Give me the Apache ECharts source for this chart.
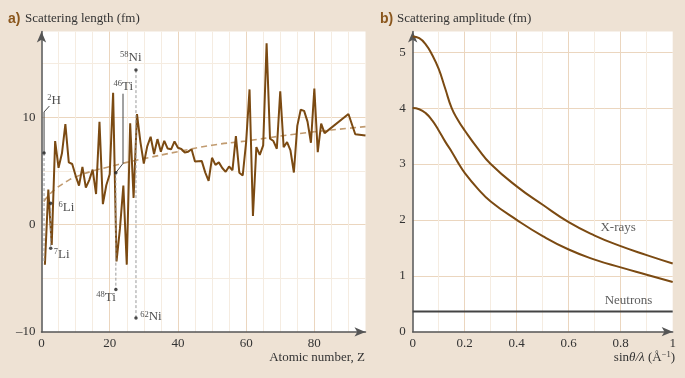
<!DOCTYPE html>
<html>
<head>
<meta charset="utf-8">
<style>
  html, body { margin: 0; padding: 0; background: #eee2d4; }
  #chart { width: 685px; height: 378px; }
</style>
<script src="https://cdn.jsdelivr.net/npm/echarts@6/dist/echarts.min.js"></script>
</head>
<body>
<div id="chart"></div>
<script>
// panel a) coherent scattering length per element
const atomicNumbers = [
  1, 2, 3, 4, 5, 6, 7, 8, 9, 10, 11, 12, 13, 14, 15, 16, 17, 18, 19, 20,
  21, 22, 23, 24, 25, 26, 27, 28, 29, 30, 31, 32, 33, 34, 35, 36, 37, 38, 39, 40,
  41, 42, 43, 44, 45, 46, 47, 48, 49, 50, 51, 52, 53, 54, 55, 56, 57, 58, 59, 60,
  61, 62, 63, 64, 65, 66, 67, 68, 69, 70, 71, 72, 73, 74, 75, 76, 77, 78, 79, 80,
  81, 82, 83, 90, 92, 95
];
const scatteringLengths = [
  -3.74, 3.26, -1.90, 7.79, 5.30, 6.65, 9.36, 5.80, 5.65, 4.57, 3.63, 5.38, 3.45, 4.15, 5.13, 2.85, 9.58, 1.91, 3.67, 4.70,
  12.29, -3.44, -0.38, 3.64, -3.73, 9.45, 2.49, 10.3, 7.72, 5.68, 7.29, 8.19, 6.58, 7.97, 6.80, 7.81, 7.09, 7.02, 7.75, 7.16,
  7.05, 6.72, 6.80, 7.03, 5.88, 5.91, 5.92, 4.87, 4.07, 6.23, 5.57, 5.80, 5.28, 4.92, 5.42, 5.07, 8.24, 4.84, 4.58, 7.69,
  12.6, 0.80, 7.22, 6.5, 7.38, 16.9, 8.01, 7.79, 7.07, 12.43, 7.21, 7.7, 6.91, 4.86, 9.2, 10.7, 10.6, 9.6, 7.63, 12.69,
  6.75, 9.41, 8.53, 10.31, 8.42, 8.3
];
// dashed smooth trend
const trendZ = [0.7, 2, 4, 6, 8, 10, 15, 20, 25, 30, 40, 50, 60, 70, 80, 90, 95];
const trendLength = [2.15, 2.7, 3.3, 3.75, 4.15, 4.45, 5.0, 5.4, 5.8, 6.15, 6.8, 7.4, 7.8, 8.25, 8.65, 8.98, 9.13];
// isotope markers
const isotopeMass = ['2', '6', '7', '46', '48', '58', '62'];
const isotopeElement = ['H', 'Li', 'Li', 'Ti', 'Ti', 'Ni', 'Ni'];
const isotopeZ = [0.75, 2.7, 2.7, 21.8, 21.8, 27.7, 27.7];
const isotopeLengths = [6.67, 2.0, -2.2, 4.84, -6.05, 14.4, -8.7];

// panel b) scattering amplitude vs sin(theta)/lambda
const sinThetaLambda = [0, 0.025, 0.05, 0.075, 0.1, 0.125, 0.15, 0.175, 0.2, 0.25, 0.3, 0.4, 0.5, 0.6, 0.7, 0.8, 0.9, 1.0];
const xrayUpper = [5.28, 5.25, 5.14, 4.95, 4.70, 4.35, 4.0, 3.78, 3.60, 3.28, 3.0, 2.60, 2.27, 1.96, 1.72, 1.53, 1.37, 1.22];
const xrayLower = [4.0, 3.98, 3.91, 3.78, 3.60, 3.40, 3.22, 3.02, 2.84, 2.56, 2.33, 2.0, 1.71, 1.47, 1.29, 1.15, 1.02, 0.89];
const neutronX = [0, 1];
const neutronAmp = [0.36, 0.36];

const SERIF = '"Liberation Serif", "DejaVu Serif", serif';
const BROWN = '#7b4a12';
const GRID_DARK = '#ebd6bf';
const GRID_LIGHT = '#f5ece1';

const chart = echarts.init(document.getElementById('chart'));

const zip = (xs, ys) => xs.map((x, i) => [x, ys[i]]);

function axisLine() {
  return {
    show: true,
    onZero: false,
    symbol: ['none', 'arrow'],
    symbolSize: [7, 11],
    lineStyle: { color: '#555', width: 1.5 },
  };
}
const labelStyle = { color: '#333', fontFamily: SERIF, fontSize: 13 };

// isotope label positions (data units) next to the dots
const isoLabelPos = [[3.7, 11.6], [7.3, 1.6], [5.9, -2.75], [24.0, 12.85], [18.9, -6.8], [26.2, 15.6], [32.1, -8.6]];
// leader lines for 2H and 46Ti labels
const leaderLines = [
  [[0.75, 6.67], [0.75, 10.5], [2.3, 11.05]],
  [[21.8, 4.84], [23.9, 5.7], [23.9, 12.2]],
];
// dotted lines joining the isotope values to the element curve
const dottedLines = [
  [[0.75, 6.67], [0.75, -3.6]],
  [[2.7, 2.0], [2.7, -2.2]],
  [[21.8, 4.84], [21.8, -6.05]],
  [[27.7, 14.4], [27.7, -8.7]],
];

const series = [
  {
    type: 'line', xAxisIndex: 0, yAxisIndex: 0,
    data: zip(trendZ, trendLength), smooth: true, symbol: 'none',
    lineStyle: { color: '#c19b70', width: 1.6, type: [6, 4] }, z: 2,
  },
  {
    type: 'line', xAxisIndex: 0, yAxisIndex: 0,
    data: zip(atomicNumbers, scatteringLengths), symbol: 'none',
    lineStyle: { color: BROWN, width: 2 }, z: 3,
  },
];
dottedLines.forEach((d) => series.push({
  type: 'line', xAxisIndex: 0, yAxisIndex: 0, data: d, symbol: 'none',
  lineStyle: { color: '#9a9a9a', width: 1, type: [3, 2] }, z: 4,
}));
leaderLines.forEach((d) => series.push({
  type: 'line', xAxisIndex: 0, yAxisIndex: 0, data: d, symbol: 'none',
  lineStyle: { color: '#444', width: 1 }, z: 4,
}));
series.push({
  type: 'scatter', xAxisIndex: 0, yAxisIndex: 0,
  data: zip(isotopeZ, isotopeLengths), symbolSize: 3.5,
  itemStyle: { color: '#222' }, z: 5,
});
series.push({
  type: 'scatter', xAxisIndex: 0, yAxisIndex: 0, symbolSize: 0, z: 6,
  data: isoLabelPos.map((p, i) => ({
    value: p,
    label: { formatter: '{s|' + isotopeMass[i] + '}{b|' + isotopeElement[i] + '}' },
  })),
  label: {
    show: true, position: 'inside',
    rich: {
      s: { fontFamily: SERIF, fontSize: 8.5, color: '#222', verticalAlign: 'top', lineHeight: 14 },
      b: { fontFamily: SERIF, fontSize: 13, color: '#222', lineHeight: 14 },
    },
  },
});
// panel b
series.push({
  type: 'line', xAxisIndex: 1, yAxisIndex: 1, data: zip(sinThetaLambda, xrayUpper),
  smooth: 0.5, symbol: 'none', lineStyle: { color: BROWN, width: 2 },
});
series.push({
  type: 'line', xAxisIndex: 1, yAxisIndex: 1, data: zip(sinThetaLambda, xrayLower),
  smooth: 0.5, symbol: 'none', lineStyle: { color: BROWN, width: 2 },
});
series.push({
  type: 'line', xAxisIndex: 1, yAxisIndex: 1, data: zip(neutronX, neutronAmp),
  symbol: 'none', lineStyle: { color: '#444', width: 2 },
});
series.push({
  type: 'scatter', xAxisIndex: 1, yAxisIndex: 1, symbolSize: 0, z: 6,
  data: [
    { value: [0.79, 1.86], name: 'X-rays' },
    { value: [0.83, 0.55], name: 'Neutrons' },
  ],
  label: { show: true, position: 'inside', formatter: '{b}', fontFamily: SERIF, fontSize: 13, color: '#333' },
});

const option = {
  animation: false,
  backgroundColor: '#eee2d4',
  grid: [
    { left: 41.5, top: 31.5, width: 324, height: 300.4, show: true, backgroundColor: '#fff', borderWidth: 0 },
    { left: 412.7, top: 31.5, width: 260, height: 300.2, show: true, backgroundColor: '#fff', borderWidth: 0 },
  ],
  xAxis: [
    {
      gridIndex: 0, type: 'value', min: 0, max: 95, interval: 20,
      axisLine: axisLine(), axisTick: { show: false },
      axisLabel: Object.assign({ margin: 5, formatter: (v) => (v % 20 === 0 && v < 95 ? String(v) : '') }, labelStyle),
      splitLine: { show: true, showMinLine: false, showMaxLine: false, lineStyle: { color: GRID_DARK } },
      minorTick: { show: false, splitNumber: 4 },
      minorSplitLine: { show: true, lineStyle: { color: GRID_LIGHT } },
    },
    {
      gridIndex: 1, type: 'value', min: 0, max: 1, interval: 0.2,
      axisLine: axisLine(), axisTick: { show: false },
      axisLabel: Object.assign({ margin: 5, formatter: (v) => String(+v.toFixed(1)) }, labelStyle),
      splitLine: { show: true, showMinLine: false, showMaxLine: false, lineStyle: { color: GRID_DARK } },
      minorTick: { show: false, splitNumber: 2 },
      minorSplitLine: { show: true, lineStyle: { color: GRID_LIGHT } },
    },
  ],
  yAxis: [
    {
      gridIndex: 0, type: 'value', min: -10, max: 18, interval: 10,
      axisLine: axisLine(), axisTick: { show: false },
      axisLabel: Object.assign({ margin: 6, formatter: (v) => (v === -10 ? '–10' : (v === 0 || v === 10 ? String(v) : '')) }, labelStyle),
      splitLine: { show: true, showMinLine: false, showMaxLine: false, lineStyle: { color: GRID_DARK } },
      minorTick: { show: false, splitNumber: 2 },
      minorSplitLine: { show: true, lineStyle: { color: GRID_LIGHT } },
    },
    {
      gridIndex: 1, type: 'value', min: 0, max: 5.37, interval: 1,
      axisLine: axisLine(), axisTick: { show: false },
      axisLabel: Object.assign({ margin: 7, formatter: (v) => (Number.isInteger(v) ? String(v) : '') }, labelStyle),
      splitLine: { show: true, showMinLine: false, showMaxLine: false, lineStyle: { color: GRID_DARK } },
    },
  ],
  graphic: [
    { type: 'text', x: 8, y: 19, style: { text: 'a)', font: 'bold 14px "Liberation Sans", sans-serif', fill: '#8a561c', verticalAlign: 'middle', textVerticalAlign: 'middle' } },
    { type: 'text', x: 25, y: 19, style: { text: 'Scattering length (fm)', font: '13px ' + SERIF, fill: '#333', verticalAlign: 'middle', textVerticalAlign: 'middle' } },
    { type: 'text', x: 380, y: 19, style: { text: 'b)', font: 'bold 14px "Liberation Sans", sans-serif', fill: '#8a561c', verticalAlign: 'middle', textVerticalAlign: 'middle' } },
    { type: 'text', x: 397, y: 19, style: { text: 'Scattering amplitude (fm)', font: '13px ' + SERIF, fill: '#333', verticalAlign: 'middle', textVerticalAlign: 'middle' } },
    { type: 'text', x: 365, y: 358, style: { text: 'Atomic number, Z', font: '13px ' + SERIF, fill: '#333', align: 'right', textAlign: 'right', verticalAlign: 'middle', textVerticalAlign: 'middle' } },
    {
      type: 'text', x: 675, y: 358,
      style: {
        text: '{n|sin}{i|θ/λ}{n| (Å}{s|−1}{n|)}',
        align: 'right', textAlign: 'right', verticalAlign: 'middle', textVerticalAlign: 'middle',
        rich: {
          n: { fontFamily: SERIF, fontSize: 13, fill: '#333', color: '#333', lineHeight: 15 },
          i: { fontFamily: SERIF, fontSize: 13, fontStyle: 'italic', fill: '#333', color: '#333', lineHeight: 15 },
          s: { fontFamily: SERIF, fontSize: 8.5, fill: '#333', color: '#333', verticalAlign: 'top', lineHeight: 15 },
        },
      },
    },
  ],
  series: series,
};

chart.setOption(option);
</script>
</body>
</html>
